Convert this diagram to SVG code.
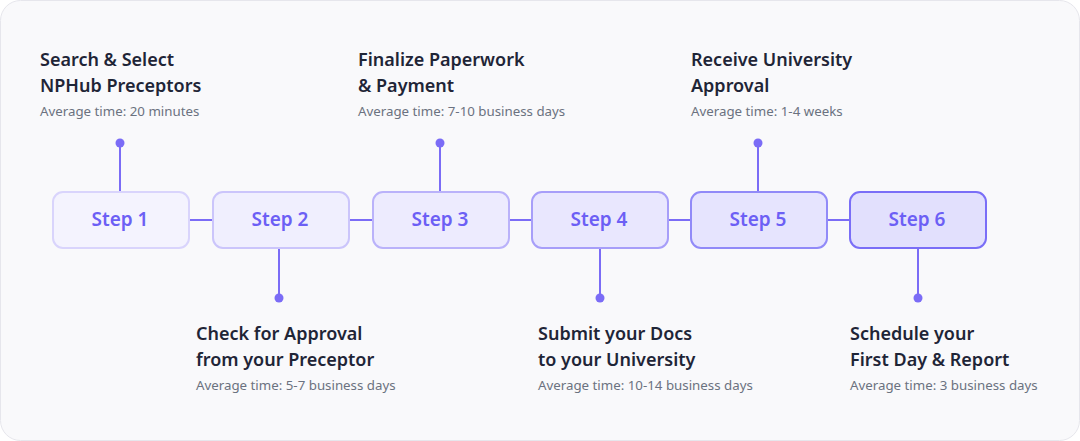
<svg xmlns="http://www.w3.org/2000/svg" width="1080" height="441" viewBox="0 0 1080 441">
<style>
.t{font-family:"Noto Sans","Open Sans",sans-serif;font-size:18px;font-weight:600;fill:#1f2537}
.s{font-family:"Noto Sans","Open Sans",sans-serif;font-size:13.3px;fill:#6b7280}
.l{font-family:"Noto Sans","Open Sans",sans-serif;font-size:19px;font-weight:600;fill:#6c5ff5;text-anchor:middle}
.c{stroke:#7b6cf6;stroke-width:2;fill:none}
.d{fill:#7b6cf6}
</style>
<rect x="0.5" y="0.5" width="1079" height="440" rx="20" fill="#f9f9fb" stroke="#e6e6ec"/>
<g id="connectors">
<path class="c" d="M189 220H213M349 220H373M509 220H532M668 220H691M827 220H850"/>
<path class="c" d="M120 192V143M279 248V298M440 192V143M600 248V298M758 192V143M918 248V298"/>
<circle class="d" cx="120" cy="143" r="4.5"/><circle class="d" cx="279" cy="298" r="4.5"/>
<circle class="d" cx="440" cy="143" r="4.5"/><circle class="d" cx="600" cy="298" r="4.5"/>
<circle class="d" cx="758" cy="143" r="4.5"/><circle class="d" cx="918" cy="298" r="4.5"/>
</g>
<g id="step1"><rect x="53" y="192" width="136" height="56" rx="10" fill="#f4f3fe" stroke="#d9d4fc" stroke-width="2"/><text class="l" x="120" y="226">Step 1</text></g>
<g id="step2"><rect x="213" y="192" width="136" height="56" rx="10" fill="#f0effe" stroke="#cbc5fb" stroke-width="2"/><text class="l" x="280" y="226">Step 2</text></g>
<g id="step3"><rect x="373" y="192" width="136" height="56" rx="10" fill="#edebfe" stroke="#bab2fa" stroke-width="2"/><text class="l" x="440" y="226">Step 3</text></g>
<g id="step4"><rect x="532" y="192" width="136" height="56" rx="10" fill="#e9e7fe" stroke="#a79ef9" stroke-width="2"/><text class="l" x="599" y="226">Step 4</text></g>
<g id="step5"><rect x="691" y="192" width="136" height="56" rx="10" fill="#e6e4fe" stroke="#918af8" stroke-width="2"/><text class="l" x="758" y="226">Step 5</text></g>
<g id="step6"><rect x="850" y="192" width="136" height="56" rx="10" fill="#e2e0fd" stroke="#7a6ef7" stroke-width="2"/><text class="l" x="917" y="226">Step 6</text></g>
<g id="text1"><text class="t" x="40" y="66">Search &amp; Select</text><text class="t" x="40" y="92">NPHub Preceptors</text><text class="s" x="40" y="116">Average time: 20 minutes</text></g>
<g id="text2"><text class="t" x="196" y="340">Check for Approval</text><text class="t" x="196" y="366">from your Preceptor</text><text class="s" x="196" y="390">Average time: 5-7 business days</text></g>
<g id="text3"><text class="t" x="358" y="66">Finalize Paperwork</text><text class="t" x="358" y="92">&amp; Payment</text><text class="s" x="358" y="116">Average time: 7-10 business days</text></g>
<g id="text4"><text class="t" x="538" y="340">Submit your Docs</text><text class="t" x="538" y="366">to your University</text><text class="s" x="538" y="390">Average time: 10-14 business days</text></g>
<g id="text5"><text class="t" x="691" y="66">Receive University</text><text class="t" x="691" y="92">Approval</text><text class="s" x="691" y="116">Average time: 1-4 weeks</text></g>
<g id="text6"><text class="t" x="850" y="340">Schedule your</text><text class="t" x="850" y="366">First Day &amp; Report</text><text class="s" x="850" y="390">Average time: 3 business days</text></g>
</svg>
